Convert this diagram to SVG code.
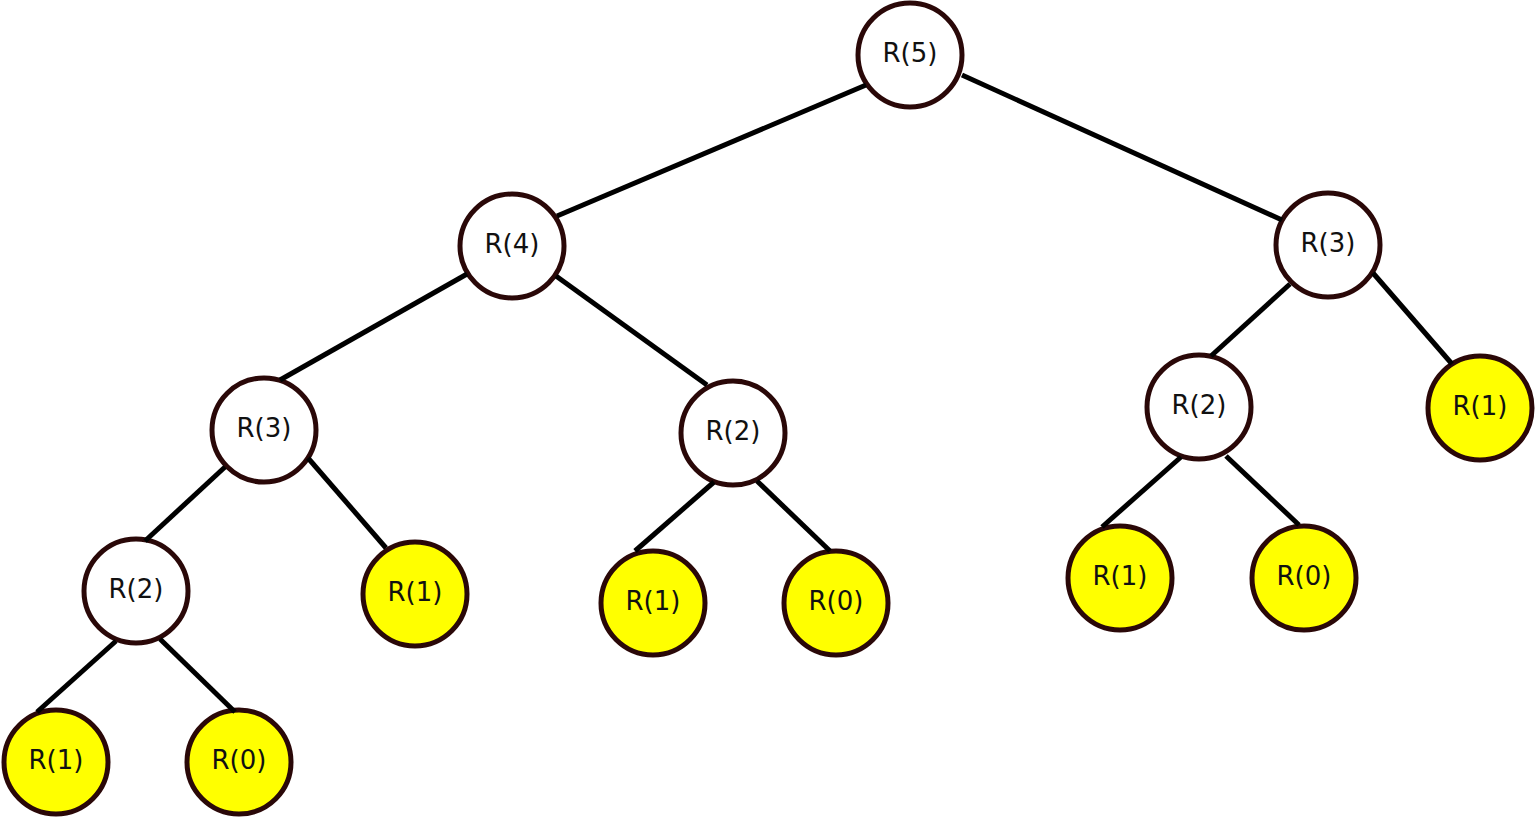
<svg xmlns="http://www.w3.org/2000/svg" width="1536" height="818" viewBox="0 0 1536 818">
<style>
.n circle{stroke:#2a0808;stroke-width:5;fill:#fff}
.leaf circle{fill:#ffff00}
text{font-family:"DejaVu Sans",Verdana,sans-serif;font-size:26px;text-anchor:middle;dominant-baseline:central;fill:#111}
#edges line{stroke:#000;stroke-width:5}
</style>
<rect width="1536" height="818" fill="#fff"/>
<g id="n5" class="n"><circle cx="910" cy="55" r="52"/><text x="910" y="53">R(5)</text></g>
<g id="n4" class="n"><circle cx="512" cy="246" r="52"/><text x="512" y="244">R(4)</text></g>
<g id="n3r" class="n"><circle cx="1328" cy="245" r="52"/><text x="1328" y="243">R(3)</text></g>
<g id="n3l" class="n"><circle cx="264" cy="430" r="52"/><text x="264" y="428">R(3)</text></g>
<g id="n2m" class="n"><circle cx="733" cy="433" r="52"/><text x="733" y="431">R(2)</text></g>
<g id="n2r" class="n"><circle cx="1199" cy="407" r="52"/><text x="1199" y="405">R(2)</text></g>
<g id="n1rr" class="n leaf"><circle cx="1480" cy="408" r="52"/><text x="1480" y="406">R(1)</text></g>
<g id="n2l" class="n"><circle cx="136" cy="591" r="52"/><text x="136" y="589">R(2)</text></g>
<g id="n1a" class="n leaf"><circle cx="415" cy="594" r="52"/><text x="415" y="592">R(1)</text></g>
<g id="n1b" class="n leaf"><circle cx="653" cy="603" r="52"/><text x="653" y="601">R(1)</text></g>
<g id="n0b" class="n leaf"><circle cx="836" cy="603" r="52"/><text x="836" y="601">R(0)</text></g>
<g id="n1c" class="n leaf"><circle cx="1120" cy="578" r="52"/><text x="1120" y="576">R(1)</text></g>
<g id="n0c" class="n leaf"><circle cx="1304" cy="578" r="52"/><text x="1304" y="576">R(0)</text></g>
<g id="n1d" class="n leaf"><circle cx="56" cy="762" r="52"/><text x="56" y="760">R(1)</text></g>
<g id="n0d" class="n leaf"><circle cx="239" cy="762" r="52"/><text x="239" y="760">R(0)</text></g>
<g id="edges">
<line x1="866" y1="85" x2="557" y2="216"/>
<line x1="962" y1="75" x2="1282" y2="220"/>
<line x1="467" y1="274" x2="280" y2="380"/>
<line x1="556" y1="276" x2="707" y2="385"/>
<line x1="1290" y1="284" x2="1211" y2="356"/>
<line x1="1373" y1="273" x2="1452" y2="364"/>
<line x1="225" y1="467" x2="145" y2="541"/>
<line x1="308" y1="458" x2="386" y2="548"/>
<line x1="714" y1="482" x2="635" y2="551"/>
<line x1="757" y1="481" x2="830" y2="551"/>
<line x1="1181" y1="457" x2="1102" y2="527"/>
<line x1="1226" y1="456" x2="1299" y2="525"/>
<line x1="116" y1="641" x2="37" y2="712"/>
<line x1="160" y1="639" x2="235" y2="712"/>
</g>
</svg>
